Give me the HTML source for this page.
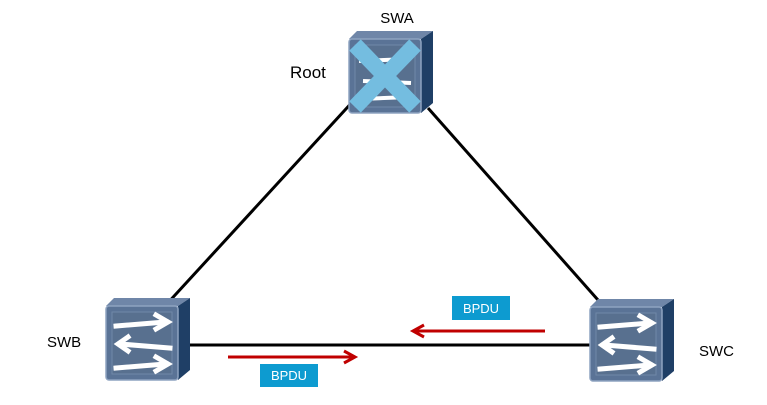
<!DOCTYPE html>
<html><head><style>body{margin:0;background:#fff}svg{display:block}</style></head><body>
<svg width="767" height="405" viewBox="0 0 767 405" xmlns="http://www.w3.org/2000/svg" font-family="Liberation Sans, Arial, sans-serif">
<defs>
<g id="box">
<polygon points="0,8 8,0 84,0 72,8" fill="#6f86a8"/>
<polygon points="72,8 84,0 84,72 72,82" fill="#1f3f66"/>
<rect x="0" y="8" width="72" height="74" rx="3" fill="#5a7396" stroke="#8ea3c0" stroke-width="1.5"/>
<rect x="6" y="14" width="60" height="62" fill="#58708f" stroke="#7088a8" stroke-width="1"/>
</g>
<g id="arrows" stroke="#fff" stroke-width="5" fill="none" stroke-linecap="square">
<line x1="10" y1="28" x2="60" y2="24"/><polyline points="50,17 62,24 50,31"/>
<line x1="14" y1="46" x2="64" y2="50"/><polyline points="22,39 12,46 22,53"/>
<line x1="10" y1="70" x2="60" y2="66"/><polyline points="50,59 62,66 50,73"/>
</g>
</defs>
<g stroke="#000" stroke-width="3">
<line x1="356" y1="98" x2="165" y2="306"/>
<line x1="428" y1="108" x2="598" y2="300"/>
<line x1="185" y1="345" x2="592" y2="345"/>
</g>
<g transform="translate(349,31)"><use href="#box"/>
<g stroke="#fff" stroke-width="4"><line x1="10" y1="30" x2="60" y2="28"/><line x1="14" y1="50" x2="62" y2="52"/><line x1="12" y1="68" x2="60" y2="66"/></g>
<line x1="6" y1="14" x2="66" y2="76" stroke="#74bde0" stroke-width="16"/>
<line x1="66" y1="14" x2="6" y2="76" stroke="#74bde0" stroke-width="16"/>
</g>
<g transform="translate(106,298)"><use href="#box"/><use href="#arrows"/></g>
<g transform="translate(590,299)"><use href="#box"/><use href="#arrows"/></g>
<g stroke="#c00000" stroke-width="3" fill="none">
<line x1="228" y1="357" x2="354" y2="357"/><polyline points="344,351 355,357 344,363"/>
<line x1="545" y1="331" x2="414" y2="331"/><polyline points="424,325 413,331 424,337"/>
</g>
<rect x="452" y="296" width="58" height="24" fill="#0d9bd0"/>
<text x="481" y="313" fill="#fff" font-size="13" text-anchor="middle">BPDU</text>
<rect x="260" y="364" width="58" height="23" fill="#0d9bd0"/>
<text x="289" y="380" fill="#fff" font-size="13" text-anchor="middle">BPDU</text>
<g font-size="15" fill="#000">
<text x="397" y="23" text-anchor="middle">SWA</text>
<text x="290" y="78" font-size="17">Root</text>
<text x="47" y="347">SWB</text>
<text x="699" y="356">SWC</text>
</g>
</svg>
</body></html>
